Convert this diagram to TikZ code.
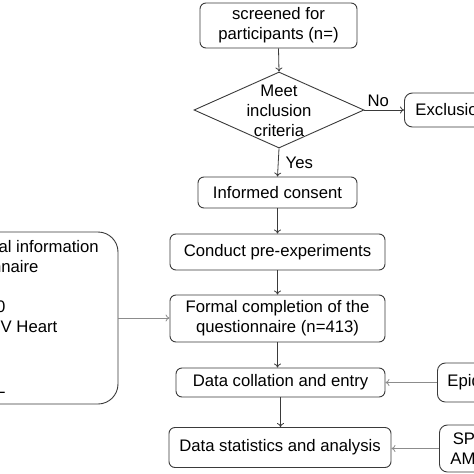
\documentclass[tikz,border=0pt]{standalone}
\usepackage{fontspec}
\setmainfont{Liberation Sans}
\usetikzlibrary{shapes.geometric,arrows.meta}
\definecolor{edge}{HTML}{3A3A3A}
\definecolor{side}{HTML}{8C8C8C}
\tikzset{
  box/.style={draw=edge, line width=0.9pt, rounded corners=6pt, align=center, inner sep=0pt, font=\fontsize{16.7}{20}\selectfont},
  sidebox/.style={draw=edge, line width=0.9pt, rounded corners=8pt, align=center, inner ysep=0pt, inner xsep=11pt, anchor=west, font=\fontsize{16.7}{20}\selectfont},
  flow/.style={draw=edge, line width=0.8pt, -{To[length=4pt,width=7pt]}},
  sideflow/.style={draw=side, line width=0.8pt, -{To[length=4pt,width=7pt]}},
  lbl/.style={inner sep=0pt, font=\fontsize{16.7}{20}\selectfont},
  leftline/.style={inner sep=0pt, anchor=base east, font=\fontsize{16.7}{20}\selectfont}
}
\begin{document}
\begin{tikzpicture}[x=1pt,y=-1pt]
\useasboundingbox (0,0) rectangle (474,474);
\clip (0,0) rectangle (474,474);
% main column
\node[box, minimum width=157pt, minimum height=45pt] (scr) at (278.5,25.5) {screened for\\participants (n=)};
\node[draw=edge, line width=0.9pt, diamond, minimum width=170pt, minimum height=76pt, inner sep=0pt] (dia) at (279,110) {};
\node[lbl, align=center, font=\fontsize{16.7}{20}\selectfont] (diatext) at (279,111) {Meet\\inclusion\\criteria};
\node[sidebox, minimum height=34pt] (exc) at (404,110) {Exclusion};
\node[box, minimum width=159pt, minimum height=31pt] (inf) at (277.5,192.5) {Informed consent};
\node[box, minimum width=215pt, minimum height=36pt] (con) at (277.5,252) {Conduct pre-experiments};
\node[box, minimum width=215pt, minimum height=47pt] (for) at (277.5,318.5) {Formal completion of the\\questionnaire (n=413)};
\node[box, minimum width=209pt, minimum height=29pt] (col) at (280.5,382.5) {Data collation and entry};
\node[box, minimum width=222pt, minimum height=40pt] (sta) at (280,447.5) {Data statistics and analysis};
\node[sidebox, minimum height=39pt, inner xsep=10pt] (epi) at (437,382.5) {Epidata 3.1};
\node[sidebox, minimum height=47pt] (spss) at (439,448.5) {SPSS 26.0\\AMOS 24.0};
% left box
\draw[draw=edge, line width=0.9pt, rounded corners=20pt] (-30,232) -- (118,232) -- (118,404) -- (-30,404);
\coordinate (lb) at (118,318);
\node[leftline] (l1) at (99,252.5) {1. General information};
\node[leftline] (l2) at (38.7,272.5) {questionnaire};
\node[leftline] (l3) at (5.7,312.5) {2. CES-D-10};
\node[leftline] (l4) at (57.5,332.5) {3. Scale V Heart};
\node[leftline] (l8) at (5.6,393) {SCL};
% connectors
\draw[flow] (scr.south) -- (dia.north);
\draw[flow] (dia.east) -- (exc.west) node[lbl, pos=0.35, above=3pt] (no) {No};
\draw[flow] (dia.south) -- (inf.north) node[lbl, pos=0.5, right=7pt] (yes) {Yes};
\draw[flow] (inf.south) -- (con.north);
\draw[flow] (con.south) -- (for.north);
\draw[flow] (for.south) -- (col.north -| for.south);
\draw[flow] (col.south) -- (sta.north -| col.south);
\draw[sideflow] (lb) -- (lb -| for.west);
\draw[sideflow] (epi.west) -- (epi.west -| col.east);
\draw[sideflow] (spss.west) -- (spss.west -| sta.east);
\end{tikzpicture}
\end{document}
